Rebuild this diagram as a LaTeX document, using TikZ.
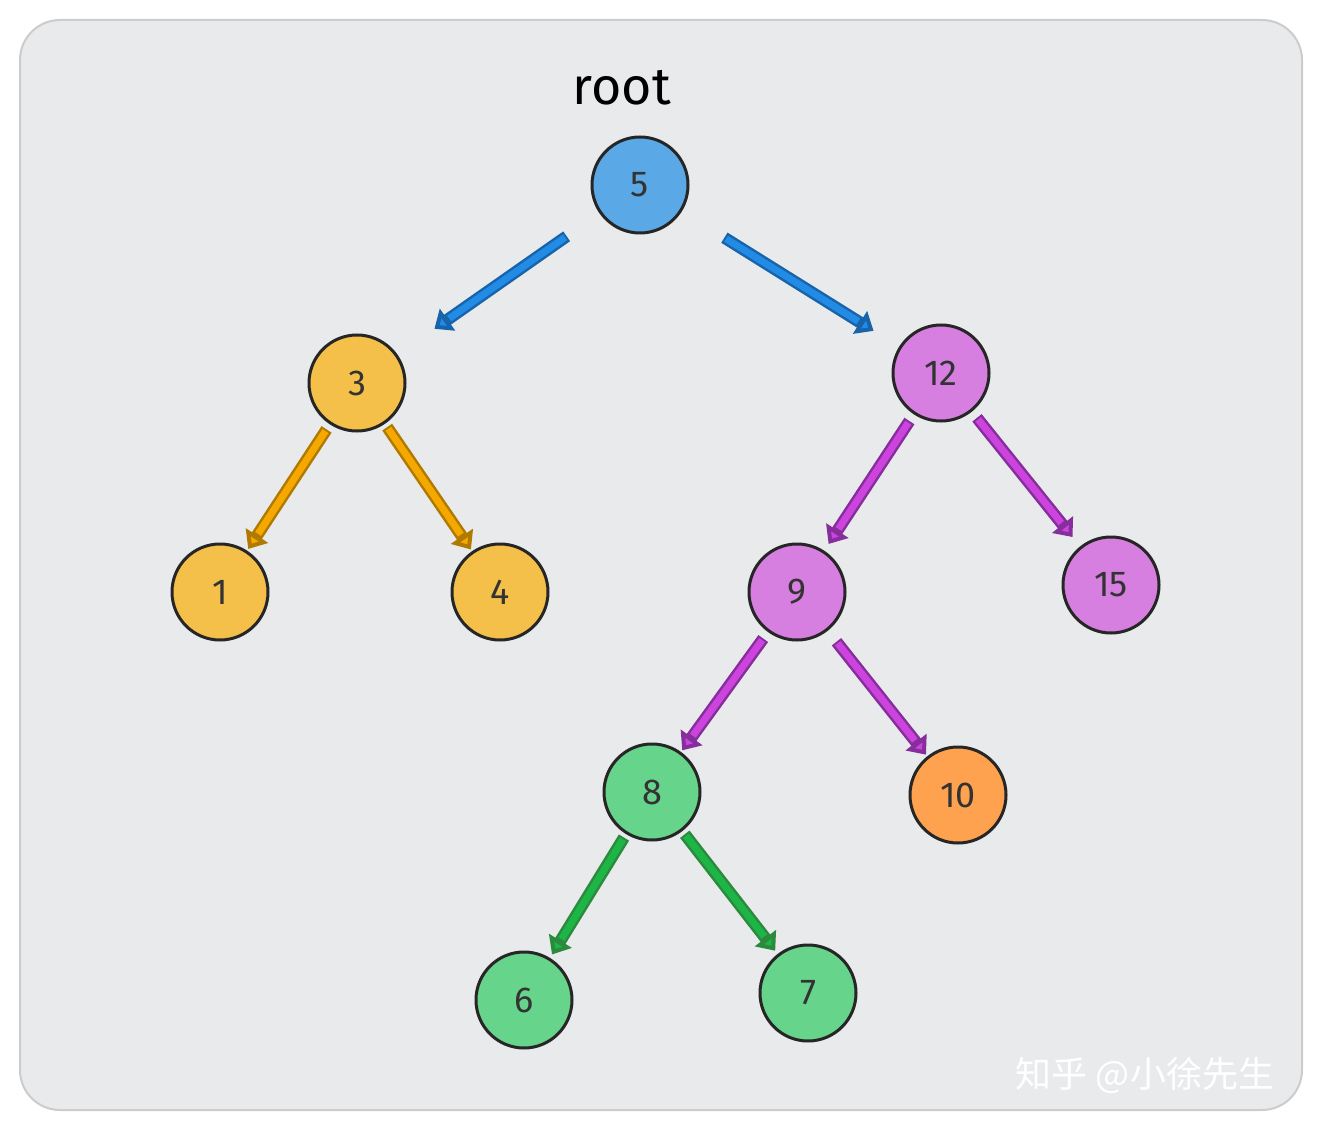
\documentclass[tikz,border=0pt]{standalone}
\usepackage{fontspec}
\setmainfont{Fira Sans}
\newfontfamily\cjk{Noto Sans CJK SC}
\usetikzlibrary{arrows.meta}
\definecolor{bg}{HTML}{E9EAEC}
\definecolor{bluef}{HTML}{5AA9E6}\definecolor{blued}{HTML}{1864AB}\definecolor{bluea}{HTML}{228BE6}
\definecolor{yelf}{HTML}{F5C04A}\definecolor{yeld}{HTML}{B07A00}\definecolor{yela}{HTML}{F5A800}
\definecolor{purf}{HTML}{D77FE0}\definecolor{purd}{HTML}{862E9C}\definecolor{pura}{HTML}{CC44DD}
\definecolor{grnf}{HTML}{66D48A}\definecolor{grnd}{HTML}{2B8A3E}\definecolor{grna}{HTML}{1DB545}
\definecolor{orf}{HTML}{FFA24F}
\begin{document}
\begin{tikzpicture}[x=1pt,y=-1pt,
 nd/.style={circle,minimum size=96pt,draw=black!85,line width=3pt,font=\fontsize{36}{36}\selectfont,text=black!80}]
\useasboundingbox (0,0) rectangle (1322,1131);
\draw[fill=bg,draw=black!20,line width=2pt,rounded corners=40pt] (20,20) rectangle (1302,1110);
\node[font=\fontsize{52}{52}\selectfont] (rt) at (622,88) {root};
\node[nd,fill=bluef] (n5) at (640,185) {5};
\node[nd,fill=yelf] (n3) at (357,383) {3};
\node[nd,fill=purf] (n12) at (941,373) {12};
\node[nd,fill=yelf] (n1) at (220,592) {1};
\node[nd,fill=yelf] (n4) at (500,592) {4};
\node[nd,fill=purf] (n9) at (797,592) {9};
\node[nd,fill=purf] (n15) at (1111,585) {15};
\node[nd,fill=grnf] (n8) at (652,792) {8};
\node[nd,fill=orf] (n10) at (958,795) {10};
\node[nd,fill=grnf] (n6) at (524,1000) {6};
\node[nd,fill=grnf] (n7) at (808,993) {7};
\foreach \a/\b/\od/\ic/\s/\e in {n5/n3/blued/bluea/40/45,n5/n12/blued/bluea/50/30,n3/n1/yeld/yela/6/2,n3/n4/yeld/yela/4/2,n12/n9/purd/pura/8/8,n12/n15/purd/pura/8/12,n9/n8/purd/pura/8/2,n9/n10/purd/pura/14/2,n8/n6/grnd/grna/4/4,n8/n7/grnd/grna/4/4}{
 \draw[line width=12pt,draw=\od,shorten <=\s pt,shorten >=\e pt,-{Triangle[length=16pt,width=26pt,fill=\ic]}] (\a) -- (\b);
 \draw[line width=7pt,draw=\ic,shorten <=\s pt+2pt,shorten >=\e pt+18pt] (\a) -- (\b);
}
\node[text=white,font=\cjk\fontsize{36}{36}\selectfont] (wm) at (1145,1075) {知乎 @小徐先生};
\end{tikzpicture}
\end{document}
